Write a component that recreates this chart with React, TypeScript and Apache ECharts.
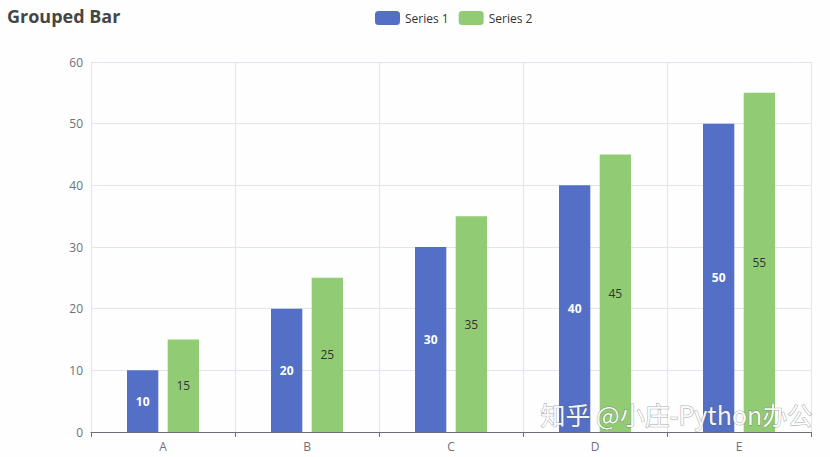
import React, { useEffect, useRef } from "react";
import * as echarts from "echarts";

const categories = ["A", "B", "C", "D", "E"];
const series1 = [10, 20, 30, 40, 50];
const series2 = [15, 25, 35, 45, 55];
const seriesNames = ["Series 1", "Series 2"];
const titleText = "Grouped Bar";
const watermark = "知乎 @小庄-Python办公";

export default function App() {
  const ref = useRef<HTMLDivElement>(null);
  useEffect(() => {
    document.body.style.margin = "0";
    const chart = echarts.init(ref.current!, null, { renderer: "svg" });
    chart.setOption({
      animation: false,
      backgroundColor: "#fefefe",
      textStyle: { fontFamily: "'Open Sans', 'Noto Sans', sans-serif" },
      title: {
        text: titleText,
        left: 2,
        top: 2,
        textStyle: { fontSize: 18, fontWeight: "bold", color: "#464646" },
      },
      legend: {
        data: seriesNames,
        left: 370,
        top: 6,
        itemWidth: 25,
        itemHeight: 14,
        itemGap: 10,
        textStyle: { fontSize: 12, color: "#333" },
      },
      grid: { left: 91, right: 19, top: 62, bottom: 25 },
      xAxis: {
        type: "category",
        data: categories,
        axisLine: { lineStyle: { color: "#6e7079" } },
        axisTick: { show: true },
        axisLabel: { color: "#6e7079", fontSize: 12, margin: 8 },
        splitLine: { show: true, lineStyle: { color: "#e0e6f1" } },
      },
      yAxis: {
        type: "value",
        min: 0,
        max: 60,
        interval: 10,
        axisLabel: { color: "#6e7079", fontSize: 12, margin: 8 },
        splitLine: { lineStyle: { color: "#e0e6f1" } },
      },
      series: [
        {
          name: seriesNames[0],
          type: "bar",
          data: series1,
          barCategoryGap: "50%",
          barGap: "30%",
          itemStyle: { color: "#5470c6" },
          label: {
            show: true,
            position: "inside",
            color: "#fff",
            fontWeight: "bold",
            fontSize: 12,
          },
        },
        {
          name: seriesNames[1],
          type: "bar",
          data: series2,
          barCategoryGap: "50%",
          barGap: "30%",
          itemStyle: { color: "#91cc75" },
          label: {
            show: true,
            position: "inside",
            color: "#333",
            fontSize: 12,
          },
        },
      ],
      graphic: [
        {
          type: "text",
          left: 540,
          top: 401,
          z: 100,
          style: {
            text: watermark,
            font: "25px 'Noto Sans CJK SC', sans-serif",
            fill: "rgba(255,255,255,0.95)",
            stroke: "rgba(90,90,90,0.55)",
            lineWidth: 1,
          },
        },
      ],
    });
    return () => chart.dispose();
  }, []);
  return <div ref={ref} style={{ width: 830, height: 457 }} />;
}
